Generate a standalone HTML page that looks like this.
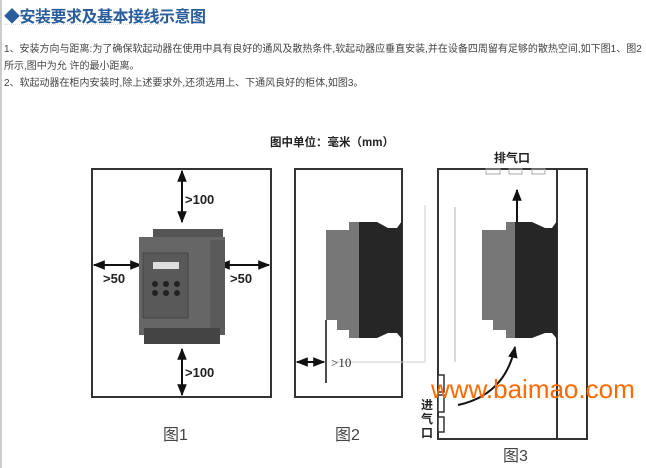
<!DOCTYPE html>
<html><head><meta charset="utf-8"><style>
html,body{margin:0;padding:0;background:#fff;}
body{width:646px;height:468px;position:relative;overflow:hidden;font-family:"Liberation Sans","Noto Sans CJK SC",sans-serif;}
.t{position:absolute;left:4px;top:3px;font-size:16px;color:#2a5d9c;font-weight:bold;letter-spacing:-0.5px;}
.p{position:absolute;left:4px;font-size:10px;color:#444;white-space:nowrap;letter-spacing:0px;}
</style></head><body>
<div style="position:absolute;left:0;top:0;width:2px;height:468px;background:#ccc"></div>
<div class="t">◆安装要求及基本接线示意图</div>
<div style="position:absolute;left:4px;top:24px;width:158px;border-top:1px dotted #ddd"></div>
<div class="p" style="top:40px">1、安装方向与距离:为了确保软起动器在使用中具有良好的通风及散热条件,软起动器应垂直安装,并在设备四周留有足够的散热空间,如下图1、图2</div>
<div class="p" style="top:57px">所示,图中为允 许的最小距离。</div>
<div class="p" style="top:74px">2、软起动器在柜内安装时,除上述要求外,还须选用上、下通风良好的柜体,如图3。</div>
<svg width="646" height="468" style="position:absolute;left:0;top:0" font-family="Liberation Sans,Noto Sans CJK SC,sans-serif">
<defs><marker id="a" viewBox="0 0 10 10" refX="9" refY="5" markerWidth="6" markerHeight="6" orient="auto-start-reverse"><path d="M0,1L10,5L0,9z" fill="#111"/></marker></defs>
<text x="270" y="146" font-size="11.5" font-weight="bold" fill="#222">图中单位：毫米（mm）</text>
<rect x="92" y="169" width="179" height="228" fill="none" stroke="#333" stroke-width="2"/>
<line x1="182" y1="171" x2="182" y2="222" stroke="#111" stroke-width="2" marker-start="url(#a)" marker-end="url(#a)"/>
<line x1="182" y1="349" x2="182" y2="395" stroke="#111" stroke-width="2" marker-start="url(#a)" marker-end="url(#a)"/>
<line x1="94" y1="265" x2="141" y2="265" stroke="#111" stroke-width="2" marker-start="url(#a)" marker-end="url(#a)"/>
<line x1="219" y1="265" x2="269" y2="265" stroke="#111" stroke-width="2" marker-start="url(#a)" marker-end="url(#a)"/>
<text x="185" y="204" font-size="13" font-weight="bold" fill="#222">&gt;100</text>
<text x="185" y="377" font-size="13" font-weight="bold" fill="#222">&gt;100</text>
<text x="103" y="283" font-size="13" font-weight="bold" fill="#222">&gt;50</text>
<text x="230" y="283" font-size="13" font-weight="bold" fill="#222">&gt;50</text>
<rect x="153" y="229" width="70" height="14" fill="#555"/>
<rect x="139" y="237" width="86" height="98" fill="#666"/>
<rect x="210" y="240" width="15" height="95" fill="#5a5a5a"/>
<rect x="143" y="253" width="45" height="65" fill="#595959" stroke="#444"/>
<rect x="153" y="262" width="26" height="7" fill="#ddd"/>
<g fill="#222"><circle cx="155" cy="284" r="3"/><circle cx="166" cy="284" r="3"/><circle cx="177" cy="284" r="3"/><circle cx="155" cy="293" r="3"/><circle cx="166" cy="293" r="3"/><circle cx="177" cy="293" r="3"/></g>
<rect x="144" y="328" width="76" height="16" fill="#444"/>
<text x="163" y="440" font-size="16" fill="#444">图1</text>
<rect x="295" y="169" width="107" height="228" fill="none" stroke="#333" stroke-width="2"/>
<line x1="425" y1="205" x2="425" y2="362" stroke="#ddd" stroke-width="1.5"/>
<line x1="332" y1="362" x2="425" y2="362" stroke="#ccc" stroke-width="1"/>
<path d="M349,222H359V338H349V330H337V320H326V230H349Z" fill="#777"/>
<path d="M359,222H377L388,228H397L402,221V339L397,333H388L377,338H359Z" fill="#262626"/>
<line x1="326" y1="320" x2="326" y2="383" stroke="#111" stroke-width="1.5"/>
<line x1="297" y1="362" x2="324" y2="362" stroke="#111" stroke-width="2" marker-start="url(#a)" marker-end="url(#a)"/>
<text x="331" y="367" font-size="13" font-family="Liberation Serif,serif" fill="#333">&gt;10</text>
<text x="335" y="440" font-size="16" fill="#444">图2</text>
<rect x="438" y="169" width="149" height="270" fill="none" stroke="#333" stroke-width="2"/>
<line x1="557" y1="169" x2="557" y2="439" stroke="#333" stroke-width="2"/>
<g fill="none" stroke="#aaa"><rect x="486" y="169" width="14" height="5"/><rect x="509" y="169" width="13" height="5"/><rect x="532" y="169" width="13" height="5"/></g>
<text x="494" y="162" font-size="12" font-weight="bold" fill="#222">排气口</text>
<line x1="455" y1="207" x2="455" y2="362" stroke="#ccc" stroke-width="1.5"/>
<path d="M506,222H515V338H506V330H493V320H482V230H506Z" fill="#777"/>
<path d="M515,222H532L545,228H552L557,221V339L552,333H545L532,338H515Z" fill="#262626"/>
<line x1="517" y1="222" x2="517" y2="190" stroke="#111" stroke-width="2" marker-end="url(#a)"/>
<path d="M458,405 Q505,395 515,347" fill="none" stroke="#111" stroke-width="2" marker-end="url(#a)"/>
<g fill="#fff" stroke="#333" stroke-width="1.5"><rect x="438" y="375" width="6" height="17"/><rect x="438" y="395" width="6" height="17"/><rect x="438" y="417" width="6" height="15"/></g>
<text x="421" y="409" font-size="12" font-weight="bold" fill="#222">进</text>
<text x="421" y="423" font-size="12" font-weight="bold" fill="#222">气</text>
<text x="421" y="437" font-size="12" font-weight="bold" fill="#222">口</text>
<text x="503" y="461" font-size="16" fill="#444">图3</text>
<text x="431" y="398" font-size="26" fill="#ff6a00">www.baimao.com</text>
</svg>
</body></html>
